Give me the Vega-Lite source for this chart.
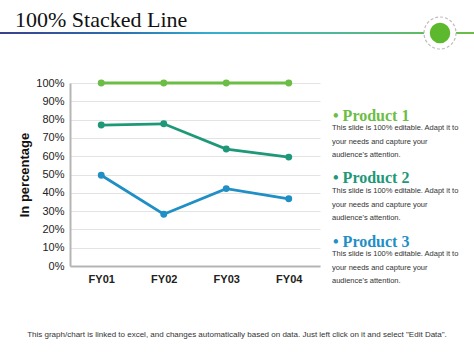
{
  "$schema": "https://vega.github.io/schema/vega-lite/v6.json",
  "width": 250,
  "height": 183,
  "autosize": {"type": "none"},
  "padding": {"left": 70, "top": 83, "right": 154, "bottom": 89},
  "background": "white",
  "config": {"view": {"stroke": null}, "font": "Liberation Sans"},
  "layer": [
    {
      "data": {"values": [
        {"year": "FY01", "product": "Product 1", "share": 23.0},
        {"year": "FY01", "product": "Product 2", "share": 27.4},
        {"year": "FY01", "product": "Product 3", "share": 49.6},
        {"year": "FY02", "product": "Product 1", "share": 22.3},
        {"year": "FY02", "product": "Product 2", "share": 49.4},
        {"year": "FY02", "product": "Product 3", "share": 28.3},
        {"year": "FY03", "product": "Product 1", "share": 36.1},
        {"year": "FY03", "product": "Product 2", "share": 21.6},
        {"year": "FY03", "product": "Product 3", "share": 42.3},
        {"year": "FY04", "product": "Product 1", "share": 40.5},
        {"year": "FY04", "product": "Product 2", "share": 22.8},
        {"year": "FY04", "product": "Product 3", "share": 36.7}
      ]},
      "mark": {"type": "line", "strokeWidth": 2.8, "point": {"filled": true, "size": 48}},
      "encoding": {
        "x": {
          "field": "year", "type": "ordinal",
          "scale": {"type": "point", "padding": 0.5},
          "axis": {"title": null, "labelAngle": 0, "labelFontWeight": "bold", "labelFontSize": 11, "labelColor": "#222", "labelPadding": 7, "ticks": false, "domainColor": "#b5b5b5", "domainWidth": 2, "grid": false}
        },
        "y": {
          "field": "share", "type": "quantitative", "stack": "normalize",
          "scale": {"domain": [0, 1]},
          "axis": {"title": "In percentage", "titleFontSize": 13, "titleFontWeight": "bold", "titleColor": "#111", "titlePadding": 4, "format": ".0%", "values": [0, 0.1, 0.2, 0.3, 0.4, 0.5, 0.6, 0.7, 0.8, 0.9, 1], "labelFontSize": 11, "labelColor": "#222", "labelPadding": 6, "ticks": false, "domainColor": "#b5b5b5", "domainWidth": 2, "gridColor": "#e3e3e3", "gridWidth": 1}
        },
        "color": {
          "field": "product", "type": "nominal",
          "scale": {"domain": ["Product 1", "Product 2", "Product 3"], "range": ["#6cbd45", "#1e9878", "#1f8fc6"]},
          "legend": null
        },
        "order": {"field": "product", "sort": "descending"}
      }
    },
    {
      "data": {"values": [{}]},
      "mark": {"type": "text", "text": "100% Stacked Line", "font": "Liberation Serif", "fontSize": 22, "color": "#111", "align": "left", "baseline": "alphabetic"},
      "encoding": {"x": {"value": -55}, "y": {"value": -56}}
    },
    {
      "data": {"values": [{}]},
      "mark": {"type": "rect", "fill": {"gradient": "linear", "x1": 0, "x2": 1, "y1": 0, "y2": 0, "stops": [{"offset": 0, "color": "#3b3f8c"}, {"offset": 0.25, "color": "#2c6fae"}, {"offset": 0.45, "color": "#34b0d2"}, {"offset": 0.7, "color": "#4fb89a"}, {"offset": 1, "color": "#6cbd45"}]}},
      "encoding": {"x": {"value": -70}, "x2": {"value": 404}, "y": {"value": -51}, "y2": {"value": -49}}
    },
    {
      "data": {"values": [{}]},
      "mark": {"type": "point", "shape": "circle", "filled": true, "fill": "white", "stroke": "#bdbdbd", "strokeWidth": 1.2, "strokeDash": [3, 2], "size": 1024, "opacity": 1},
      "encoding": {"x": {"value": 370}, "y": {"value": -50}}
    },
    {
      "data": {"values": [{}]},
      "mark": {"type": "point", "shape": "circle", "filled": true, "color": "#5cb82c", "size": 420, "opacity": 1},
      "encoding": {"x": {"value": 370}, "y": {"value": -50}}
    },
    {
      "data": {"values": [{}]},
      "mark": {"type": "text", "text": "•  Product 1", "font": "Liberation Serif", "fontWeight": "bold", "fontSize": 16, "color": "#6cbd45", "align": "left", "baseline": "alphabetic"},
      "encoding": {"x": {"value": 263}, "y": {"value": 38}}
    },
    {
      "data": {"values": [{}]},
      "mark": {"type": "text", "text": "•  Product 2", "font": "Liberation Serif", "fontWeight": "bold", "fontSize": 16, "color": "#1e9878", "align": "left", "baseline": "alphabetic"},
      "encoding": {"x": {"value": 263}, "y": {"value": 100}}
    },
    {
      "data": {"values": [{}]},
      "mark": {"type": "text", "text": "•  Product 3", "font": "Liberation Serif", "fontWeight": "bold", "fontSize": 16, "color": "#1f8fc6", "align": "left", "baseline": "alphabetic"},
      "encoding": {"x": {"value": 263}, "y": {"value": 164}}
    },
    {
      "data": {"values": [{}]},
      "mark": {"type": "text", "text": ["This slide is 100% editable. Adapt it to", "your needs and capture your", "audience's attention."], "fontSize": 7.5, "lineHeight": 13.5, "color": "#333", "align": "left", "baseline": "middle"},
      "encoding": {"x": {"value": 262}, "y": {"value": 45}}
    },
    {
      "data": {"values": [{}]},
      "mark": {"type": "text", "text": ["This slide is 100% editable. Adapt it to", "your needs and capture your", "audience's attention."], "fontSize": 7.5, "lineHeight": 13.5, "color": "#333", "align": "left", "baseline": "middle"},
      "encoding": {"x": {"value": 262}, "y": {"value": 108}}
    },
    {
      "data": {"values": [{}]},
      "mark": {"type": "text", "text": ["This slide is 100% editable. Adapt it to", "your needs and capture your", "audience's attention."], "fontSize": 7.5, "lineHeight": 13.5, "color": "#333", "align": "left", "baseline": "middle"},
      "encoding": {"x": {"value": 262}, "y": {"value": 171}}
    },
    {
      "data": {"values": [{}]},
      "mark": {"type": "text", "text": "This graph/chart is linked to excel, and changes automatically  based on data. Just left click on it and select \"Edit Data\".", "fontSize": 8, "color": "#333", "align": "center", "baseline": "middle"},
      "encoding": {"x": {"value": 167}, "y": {"value": 252}}
    }
  ]
}
